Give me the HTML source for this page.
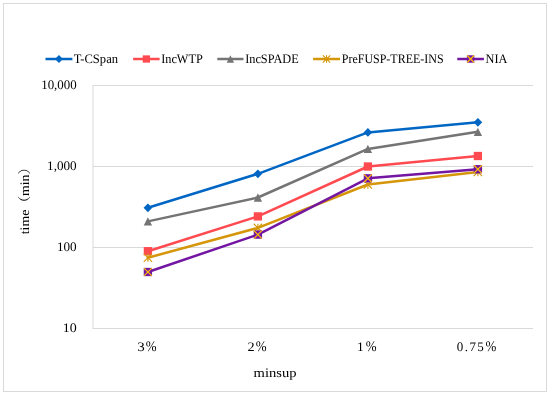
<!DOCTYPE html>
<html><head><meta charset="utf-8"><title>chart</title>
<style>
html,body{margin:0;padding:0;background:#fff;}
body{width:550px;height:395px;overflow:hidden;}
svg{display:block;}
.t{font-family:"Liberation Serif","Noto Serif CJK SC",serif;font-size:13px;fill:#000;text-rendering:geometricPrecision;}
</style></head>
<body>
<svg width="550" height="395" viewBox="0 0 550 395">
<rect x="3.5" y="3.5" width="543" height="388" fill="#fff" stroke="#D9D9D9" stroke-width="1"/>
<line x1="93" y1="85.5" x2="533" y2="85.5" stroke="#D9D9D9" stroke-width="1"/>
<line x1="93" y1="166.5" x2="533" y2="166.5" stroke="#D9D9D9" stroke-width="1"/>
<line x1="93" y1="247.5" x2="533" y2="247.5" stroke="#D9D9D9" stroke-width="1"/>
<line x1="93" y1="328.5" x2="533" y2="328.5" stroke="#D9D9D9" stroke-width="1"/>
<line x1="93" y1="85" x2="93" y2="329" stroke="#D9D9D9" stroke-width="1"/>
<polyline points="147.90,207.80 257.90,173.80 367.90,132.40 477.90,122.30" fill="none" stroke="#0066C4" stroke-width="2.5" stroke-linejoin="round" stroke-linecap="round"/>
<polygon points="147.90,203.45 152.25,207.80 147.90,212.15 143.55,207.80" fill="#0066C4"/>
<polygon points="257.90,169.45 262.25,173.80 257.90,178.15 253.55,173.80" fill="#0066C4"/>
<polygon points="367.90,128.05 372.25,132.40 367.90,136.75 363.55,132.40" fill="#0066C4"/>
<polygon points="477.90,117.95 482.25,122.30 477.90,126.65 473.55,122.30" fill="#0066C4"/>
<polyline points="147.90,251.20 257.90,216.40 367.90,166.50 477.90,156.00" fill="none" stroke="#FF4A50" stroke-width="2.5" stroke-linejoin="round" stroke-linecap="round"/>
<rect x="143.75" y="247.05" width="8.30" height="8.30" fill="#FF4A50"/>
<rect x="253.75" y="212.25" width="8.30" height="8.30" fill="#FF4A50"/>
<rect x="363.75" y="162.35" width="8.30" height="8.30" fill="#FF4A50"/>
<rect x="473.75" y="151.85" width="8.30" height="8.30" fill="#FF4A50"/>
<polyline points="147.90,221.40 257.90,197.50 367.90,148.90 477.90,131.80" fill="none" stroke="#747474" stroke-width="2.5" stroke-linejoin="round" stroke-linecap="round"/>
<polygon points="147.90,217.25 152.05,225.55 143.75,225.55" fill="#747474"/>
<polygon points="257.90,193.35 262.05,201.65 253.75,201.65" fill="#747474"/>
<polygon points="367.90,144.75 372.05,153.05 363.75,153.05" fill="#747474"/>
<polygon points="477.90,127.65 482.05,135.95 473.75,135.95" fill="#747474"/>
<polyline points="147.90,257.70 257.90,227.90 367.90,184.50 477.90,172.00" fill="none" stroke="#D5960A" stroke-width="2.5" stroke-linejoin="round" stroke-linecap="round"/>
<path d="M143.75,253.55L152.05,261.85M152.05,253.55L143.75,261.85M147.90,253.55L147.90,261.85" stroke="#D5960A" stroke-width="1.1" fill="none"/>
<path d="M253.75,223.75L262.05,232.05M262.05,223.75L253.75,232.05M257.90,223.75L257.90,232.05" stroke="#D5960A" stroke-width="1.1" fill="none"/>
<path d="M363.75,180.35L372.05,188.65M372.05,180.35L363.75,188.65M367.90,180.35L367.90,188.65" stroke="#D5960A" stroke-width="1.1" fill="none"/>
<path d="M473.75,167.85L482.05,176.15M482.05,167.85L473.75,176.15M477.90,167.85L477.90,176.15" stroke="#D5960A" stroke-width="1.1" fill="none"/>
<polyline points="147.90,272.00 257.90,234.60 367.90,178.30 477.90,169.20" fill="none" stroke="#7316A2" stroke-width="2.5" stroke-linejoin="round" stroke-linecap="round"/>
<rect x="143.75" y="267.85" width="8.30" height="8.30" fill="#7316A2"/><path d="M143.95,268.05L151.85,275.95M151.85,268.05L143.95,275.95" stroke="#FFC000" stroke-width="1.2" fill="none"/>
<rect x="253.75" y="230.45" width="8.30" height="8.30" fill="#7316A2"/><path d="M253.95,230.65L261.85,238.55M261.85,230.65L253.95,238.55" stroke="#FFC000" stroke-width="1.2" fill="none"/>
<rect x="363.75" y="174.15" width="8.30" height="8.30" fill="#7316A2"/><path d="M363.95,174.35L371.85,182.25M371.85,174.35L363.95,182.25" stroke="#FFC000" stroke-width="1.2" fill="none"/>
<rect x="473.75" y="165.05" width="8.30" height="8.30" fill="#7316A2"/><path d="M473.95,165.25L481.85,173.15M481.85,165.25L473.95,173.15" stroke="#FFC000" stroke-width="1.2" fill="none"/>
<line x1="45.5" y1="59.0" x2="72.4" y2="59.0" stroke="#0066C4" stroke-width="2.5"/>
<polygon points="58.95,55.00 62.95,59.00 58.95,63.00 54.95,59.00" fill="#0066C4"/>
<text x="73.78" y="62.70" class="t" textLength="44.24" lengthAdjust="spacingAndGlyphs">T-CSpan</text>
<line x1="133.1" y1="59.0" x2="159.6" y2="59.0" stroke="#FF4A50" stroke-width="2.5"/>
<rect x="142.70" y="55.35" width="7.30" height="7.30" fill="#FF4A50"/>
<text x="161.15" y="62.70" class="t" textLength="41.67" lengthAdjust="spacingAndGlyphs">IncWTP</text>
<line x1="217.3" y1="59.0" x2="243.5" y2="59.0" stroke="#747474" stroke-width="2.5"/>
<polygon points="230.40,55.30 234.10,62.70 226.70,62.70" fill="#747474"/>
<text x="245.14" y="62.70" class="t" textLength="53.62" lengthAdjust="spacingAndGlyphs">IncSPADE</text>
<line x1="313.1" y1="59.0" x2="340.0" y2="59.0" stroke="#D5960A" stroke-width="2.5"/>
<path d="M322.85,55.30L330.25,62.70M330.25,55.30L322.85,62.70M326.55,55.30L326.55,62.70" stroke="#D5960A" stroke-width="1.1" fill="none"/>
<text x="341.75" y="62.70" class="t" textLength="101.85" lengthAdjust="spacingAndGlyphs">PreFUSP-TREE-INS</text>
<line x1="457.3" y1="59.0" x2="483.9" y2="59.0" stroke="#7316A2" stroke-width="2.5"/>
<rect x="466.90" y="55.30" width="7.40" height="7.40" fill="#7316A2"/><path d="M467.10,55.50L474.10,62.50M474.10,55.50L467.10,62.50" stroke="#FFC000" stroke-width="1.2" fill="none"/>
<text x="485.55" y="62.70" class="t" textLength="21.86" lengthAdjust="spacingAndGlyphs">NIA</text>
<text x="41.18" y="89.30" class="t" textLength="35.51" lengthAdjust="spacingAndGlyphs">10,000</text>
<text x="47.06" y="170.30" class="t" textLength="29.65" lengthAdjust="spacingAndGlyphs">1,000</text>
<text x="56.96" y="251.40" class="t" textLength="19.75" lengthAdjust="spacingAndGlyphs">100</text>
<text x="62.79" y="332.40" class="t" textLength="13.94" lengthAdjust="spacingAndGlyphs">10</text>
<text x="137.28" y="350.90" class="t" textLength="7.50" lengthAdjust="spacingAndGlyphs">3</text>
<text transform="translate(145.72 351.42) scale(1.000 1.133)" class="t">%</text>
<text x="247.45" y="350.90" class="t" textLength="7.13" lengthAdjust="spacingAndGlyphs">2</text>
<text transform="translate(255.73 351.42) scale(1.000 1.133)" class="t">%</text>
<text x="357.03" y="350.90" class="t" textLength="6.75" lengthAdjust="spacingAndGlyphs">1</text>
<text transform="translate(365.73 351.42) scale(1.000 1.133)" class="t">%</text>
<text x="456.80" y="350.90" class="t" style="letter-spacing:1.42px">0.75</text>
<text transform="translate(485.52 351.42) scale(1.000 1.133)" class="t">%</text>
<text x="253.62" y="376.70" class="t" textLength="42.95" lengthAdjust="spacingAndGlyphs">minsup</text>
<text transform="translate(29.1 234.23) rotate(-90)" x="0" y="0" class="t" textLength="73.51" lengthAdjust="spacingAndGlyphs">time（min）</text>
</svg>
</body></html>
